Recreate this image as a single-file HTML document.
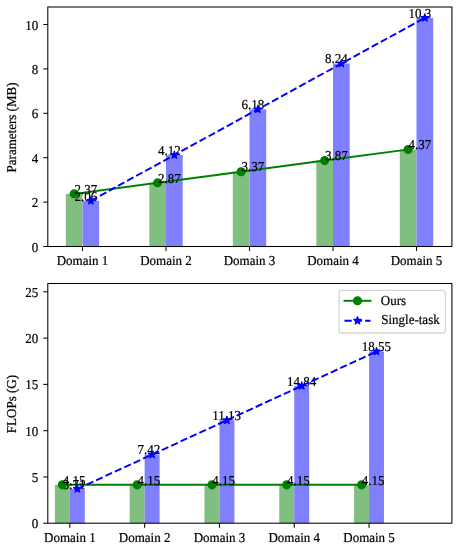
<!DOCTYPE html>
<html><head><meta charset="utf-8"><style>
html,body{margin:0;padding:0;background:#fff;}
svg{display:block;}
text{text-rendering:geometricPrecision;font-family:"Liberation Serif", "Times New Roman", serif;font-size:13.0px;fill:#000;stroke:#000;stroke-width:0.2px;}
</style></head><body>
<svg width="458" height="550" viewBox="0 0 458 550">
<rect width="458" height="550" fill="#fff"/>
<rect x="65.80" y="193.89" width="16.70" height="52.61" fill="#80bf80"/>
<rect x="82.50" y="200.77" width="16.70" height="45.73" fill="#8080ff"/>
<rect x="149.30" y="182.79" width="16.70" height="63.71" fill="#80bf80"/>
<rect x="166.00" y="155.04" width="16.70" height="91.46" fill="#8080ff"/>
<rect x="232.80" y="171.69" width="16.70" height="74.81" fill="#80bf80"/>
<rect x="249.50" y="109.30" width="16.70" height="137.20" fill="#8080ff"/>
<rect x="316.30" y="160.59" width="16.70" height="85.91" fill="#80bf80"/>
<rect x="333.00" y="63.57" width="16.70" height="182.93" fill="#8080ff"/>
<rect x="399.80" y="149.49" width="16.70" height="97.01" fill="#80bf80"/>
<rect x="416.50" y="17.84" width="16.70" height="228.66" fill="#8080ff"/>
<text transform="translate(74.45,200.57) scale(1,1.05)" font-size="12.8" stroke-width="0.05">2.06</text>
<text transform="translate(157.95,154.84) scale(1,1.05)" font-size="12.8" stroke-width="0.05">4.12</text>
<text transform="translate(241.45,109.10) scale(1,1.05)" font-size="12.8" stroke-width="0.05">6.18</text>
<text transform="translate(324.95,63.37) scale(1,1.05)" font-size="12.8" stroke-width="0.05">8.24</text>
<text transform="translate(408.45,17.64) scale(1,1.05)" font-size="12.8" stroke-width="0.05">10.3</text>
<polyline points="74.15,193.89 157.65,182.79 241.15,171.69 324.65,160.59 408.15,149.49" fill="none" stroke="#008000" stroke-width="1.95" stroke-linecap="square" stroke-linejoin="round"/>
<circle cx="74.15" cy="193.89" r="3.90" fill="#008000" stroke="#008000" stroke-width="1.30"/>
<circle cx="157.65" cy="182.79" r="3.90" fill="#008000" stroke="#008000" stroke-width="1.30"/>
<circle cx="241.15" cy="171.69" r="3.90" fill="#008000" stroke="#008000" stroke-width="1.30"/>
<circle cx="324.65" cy="160.59" r="3.90" fill="#008000" stroke="#008000" stroke-width="1.30"/>
<circle cx="408.15" cy="149.49" r="3.90" fill="#008000" stroke="#008000" stroke-width="1.30"/>
<polyline points="90.85,200.77 174.35,155.04 257.85,109.30 341.35,63.57 424.85,17.84" fill="none" stroke="#0000ff" stroke-width="1.95" stroke-dasharray="7.21 3.12" stroke-linejoin="round"/>
<path d="M90.85 196.87 L89.97 199.56 L87.14 199.56 L89.43 201.23 L88.56 203.92 L90.85 202.26 L93.14 203.92 L92.27 201.23 L94.56 199.56 L91.73 199.56 Z" fill="#0000ff" stroke="#0000ff" stroke-width="1.30" stroke-linejoin="round"/>
<path d="M174.35 151.14 L173.47 153.83 L170.64 153.83 L172.93 155.50 L172.06 158.19 L174.35 156.53 L176.64 158.19 L175.77 155.50 L178.06 153.83 L175.23 153.83 Z" fill="#0000ff" stroke="#0000ff" stroke-width="1.30" stroke-linejoin="round"/>
<path d="M257.85 105.40 L256.97 108.10 L254.14 108.10 L256.43 109.76 L255.56 112.46 L257.85 110.79 L260.14 112.46 L259.27 109.76 L261.56 108.10 L258.73 108.10 Z" fill="#0000ff" stroke="#0000ff" stroke-width="1.30" stroke-linejoin="round"/>
<path d="M341.35 59.67 L340.47 62.37 L337.64 62.37 L339.93 64.03 L339.06 66.73 L341.35 65.06 L343.64 66.73 L342.77 64.03 L345.06 62.37 L342.23 62.37 Z" fill="#0000ff" stroke="#0000ff" stroke-width="1.30" stroke-linejoin="round"/>
<path d="M424.85 13.94 L423.97 16.63 L421.14 16.63 L423.43 18.30 L422.56 21.00 L424.85 19.33 L427.14 21.00 L426.27 18.30 L428.56 16.63 L425.73 16.63 Z" fill="#0000ff" stroke="#0000ff" stroke-width="1.30" stroke-linejoin="round"/>
<text transform="translate(74.45,193.69) scale(1,1.05)" font-size="12.8" stroke-width="0.05">2.37</text>
<text transform="translate(157.95,182.59) scale(1,1.05)" font-size="12.8" stroke-width="0.05">2.87</text>
<text transform="translate(241.45,171.49) scale(1,1.05)" font-size="12.8" stroke-width="0.05">3.37</text>
<text transform="translate(324.95,160.39) scale(1,1.05)" font-size="12.8" stroke-width="0.05">3.87</text>
<text transform="translate(408.45,149.29) scale(1,1.05)" font-size="12.8" stroke-width="0.05">4.37</text>
<rect x="47.80" y="7.00" width="404.10" height="239.50" fill="none" stroke="#000" stroke-width="1.04" stroke-linejoin="miter"/>
<line x1="43.25" y1="246.50" x2="47.80" y2="246.50" stroke="#000" stroke-width="1.04"/>
<text transform="translate(38.30,251.50) scale(1,1.05)" text-anchor="end">0</text>
<line x1="43.25" y1="202.10" x2="47.80" y2="202.10" stroke="#000" stroke-width="1.04"/>
<text transform="translate(38.30,207.10) scale(1,1.05)" text-anchor="end">2</text>
<line x1="43.25" y1="157.70" x2="47.80" y2="157.70" stroke="#000" stroke-width="1.04"/>
<text transform="translate(38.30,162.70) scale(1,1.05)" text-anchor="end">4</text>
<line x1="43.25" y1="113.30" x2="47.80" y2="113.30" stroke="#000" stroke-width="1.04"/>
<text transform="translate(38.30,118.30) scale(1,1.05)" text-anchor="end">6</text>
<line x1="43.25" y1="68.90" x2="47.80" y2="68.90" stroke="#000" stroke-width="1.04"/>
<text transform="translate(38.30,73.90) scale(1,1.05)" text-anchor="end">8</text>
<line x1="43.25" y1="24.50" x2="47.80" y2="24.50" stroke="#000" stroke-width="1.04"/>
<text transform="translate(38.30,29.50) scale(1,1.05)" text-anchor="end">10</text>
<line x1="82.50" y1="246.50" x2="82.50" y2="251.05" stroke="#000" stroke-width="1.04"/>
<text transform="translate(82.50,265.40) scale(1,1.05)" text-anchor="middle">Domain 1</text>
<line x1="166.00" y1="246.50" x2="166.00" y2="251.05" stroke="#000" stroke-width="1.04"/>
<text transform="translate(166.00,265.40) scale(1,1.05)" text-anchor="middle">Domain 2</text>
<line x1="249.50" y1="246.50" x2="249.50" y2="251.05" stroke="#000" stroke-width="1.04"/>
<text transform="translate(249.50,265.40) scale(1,1.05)" text-anchor="middle">Domain 3</text>
<line x1="333.00" y1="246.50" x2="333.00" y2="251.05" stroke="#000" stroke-width="1.04"/>
<text transform="translate(333.00,265.40) scale(1,1.05)" text-anchor="middle">Domain 4</text>
<line x1="416.50" y1="246.50" x2="416.50" y2="251.05" stroke="#000" stroke-width="1.04"/>
<text transform="translate(416.50,265.40) scale(1,1.05)" text-anchor="middle">Domain 5</text>
<text transform="translate(15.60,127.45) rotate(-90) scale(1,1.05)" text-anchor="middle" font-size="13.2">Parameters (MB)</text>
<rect x="54.89" y="484.83" width="14.96" height="38.37" fill="#80bf80"/>
<rect x="69.85" y="488.90" width="14.96" height="34.30" fill="#8080ff"/>
<rect x="129.69" y="484.83" width="14.96" height="38.37" fill="#80bf80"/>
<rect x="144.65" y="454.56" width="14.96" height="68.64" fill="#8080ff"/>
<rect x="204.49" y="484.83" width="14.96" height="38.37" fill="#80bf80"/>
<rect x="219.45" y="420.21" width="14.96" height="102.99" fill="#8080ff"/>
<rect x="279.29" y="484.83" width="14.96" height="38.37" fill="#80bf80"/>
<rect x="294.25" y="385.86" width="14.96" height="137.34" fill="#8080ff"/>
<rect x="354.09" y="484.83" width="14.96" height="38.37" fill="#80bf80"/>
<rect x="369.05" y="351.51" width="14.96" height="171.69" fill="#8080ff"/>
<text transform="translate(62.67,488.70) scale(1,1.05)" font-size="12.8" stroke-width="0.05">3.71</text>
<text transform="translate(137.47,454.36) scale(1,1.05)" font-size="12.8" stroke-width="0.05">7.42</text>
<text transform="translate(212.27,420.01) scale(1,1.05)" font-size="12.8" stroke-width="0.05">11.13</text>
<text transform="translate(287.07,385.66) scale(1,1.05)" font-size="12.8" stroke-width="0.05">14.84</text>
<text transform="translate(361.87,351.31) scale(1,1.05)" font-size="12.8" stroke-width="0.05">18.55</text>
<polyline points="62.37,484.83 137.17,484.83 211.97,484.83 286.77,484.83 361.57,484.83" fill="none" stroke="#008000" stroke-width="1.95" stroke-linecap="square" stroke-linejoin="round"/>
<circle cx="62.37" cy="484.83" r="3.90" fill="#008000" stroke="#008000" stroke-width="1.30"/>
<circle cx="137.17" cy="484.83" r="3.90" fill="#008000" stroke="#008000" stroke-width="1.30"/>
<circle cx="211.97" cy="484.83" r="3.90" fill="#008000" stroke="#008000" stroke-width="1.30"/>
<circle cx="286.77" cy="484.83" r="3.90" fill="#008000" stroke="#008000" stroke-width="1.30"/>
<circle cx="361.57" cy="484.83" r="3.90" fill="#008000" stroke="#008000" stroke-width="1.30"/>
<polyline points="77.33,488.90 152.13,454.56 226.93,420.21 301.73,385.86 376.53,351.51" fill="none" stroke="#0000ff" stroke-width="1.95" stroke-dasharray="7.21 3.12" stroke-linejoin="round"/>
<path d="M77.33 485.00 L76.45 487.70 L73.62 487.70 L75.91 489.36 L75.04 492.06 L77.33 490.39 L79.62 492.06 L78.75 489.36 L81.04 487.70 L78.21 487.70 Z" fill="#0000ff" stroke="#0000ff" stroke-width="1.30" stroke-linejoin="round"/>
<path d="M152.13 450.66 L151.25 453.35 L148.42 453.35 L150.71 455.02 L149.84 457.71 L152.13 456.05 L154.42 457.71 L153.55 455.02 L155.84 453.35 L153.01 453.35 Z" fill="#0000ff" stroke="#0000ff" stroke-width="1.30" stroke-linejoin="round"/>
<path d="M226.93 416.31 L226.05 419.00 L223.22 419.00 L225.51 420.67 L224.64 423.36 L226.93 421.70 L229.22 423.36 L228.35 420.67 L230.64 419.00 L227.81 419.00 Z" fill="#0000ff" stroke="#0000ff" stroke-width="1.30" stroke-linejoin="round"/>
<path d="M301.73 381.96 L300.85 384.66 L298.02 384.66 L300.31 386.32 L299.44 389.02 L301.73 387.35 L304.02 389.02 L303.15 386.32 L305.44 384.66 L302.61 384.66 Z" fill="#0000ff" stroke="#0000ff" stroke-width="1.30" stroke-linejoin="round"/>
<path d="M376.53 347.61 L375.65 350.31 L372.82 350.31 L375.11 351.97 L374.24 354.67 L376.53 353.00 L378.82 354.67 L377.95 351.97 L380.24 350.31 L377.41 350.31 Z" fill="#0000ff" stroke="#0000ff" stroke-width="1.30" stroke-linejoin="round"/>
<text transform="translate(62.67,484.63) scale(1,1.05)" font-size="12.8" stroke-width="0.05">4.15</text>
<text transform="translate(137.47,484.63) scale(1,1.05)" font-size="12.8" stroke-width="0.05">4.15</text>
<text transform="translate(212.27,484.63) scale(1,1.05)" font-size="12.8" stroke-width="0.05">4.15</text>
<text transform="translate(287.07,484.63) scale(1,1.05)" font-size="12.8" stroke-width="0.05">4.15</text>
<text transform="translate(361.87,484.63) scale(1,1.05)" font-size="12.8" stroke-width="0.05">4.15</text>
<rect x="47.80" y="283.50" width="404.10" height="239.70" fill="none" stroke="#000" stroke-width="1.04" stroke-linejoin="miter"/>
<line x1="43.25" y1="523.25" x2="47.80" y2="523.25" stroke="#000" stroke-width="1.04"/>
<text transform="translate(38.30,528.25) scale(1,1.05)" text-anchor="end">0</text>
<line x1="43.25" y1="476.96" x2="47.80" y2="476.96" stroke="#000" stroke-width="1.04"/>
<text transform="translate(38.30,481.96) scale(1,1.05)" text-anchor="end">5</text>
<line x1="43.25" y1="430.67" x2="47.80" y2="430.67" stroke="#000" stroke-width="1.04"/>
<text transform="translate(38.30,435.67) scale(1,1.05)" text-anchor="end">10</text>
<line x1="43.25" y1="384.38" x2="47.80" y2="384.38" stroke="#000" stroke-width="1.04"/>
<text transform="translate(38.30,389.38) scale(1,1.05)" text-anchor="end">15</text>
<line x1="43.25" y1="338.09" x2="47.80" y2="338.09" stroke="#000" stroke-width="1.04"/>
<text transform="translate(38.30,343.09) scale(1,1.05)" text-anchor="end">20</text>
<line x1="43.25" y1="291.80" x2="47.80" y2="291.80" stroke="#000" stroke-width="1.04"/>
<text transform="translate(38.30,296.80) scale(1,1.05)" text-anchor="end">25</text>
<line x1="69.85" y1="523.20" x2="69.85" y2="527.75" stroke="#000" stroke-width="1.04"/>
<text transform="translate(69.85,542.10) scale(1,1.05)" text-anchor="middle">Domain 1</text>
<line x1="144.65" y1="523.20" x2="144.65" y2="527.75" stroke="#000" stroke-width="1.04"/>
<text transform="translate(144.65,542.10) scale(1,1.05)" text-anchor="middle">Domain 2</text>
<line x1="219.45" y1="523.20" x2="219.45" y2="527.75" stroke="#000" stroke-width="1.04"/>
<text transform="translate(219.45,542.10) scale(1,1.05)" text-anchor="middle">Domain 3</text>
<line x1="294.25" y1="523.20" x2="294.25" y2="527.75" stroke="#000" stroke-width="1.04"/>
<text transform="translate(294.25,542.10) scale(1,1.05)" text-anchor="middle">Domain 4</text>
<line x1="369.05" y1="523.20" x2="369.05" y2="527.75" stroke="#000" stroke-width="1.04"/>
<text transform="translate(369.05,542.10) scale(1,1.05)" text-anchor="middle">Domain 5</text>
<text transform="translate(15.60,404.05) rotate(-90) scale(1,1.05)" text-anchor="middle" font-size="13.2">FLOPs (G)</text>
<rect x="339.1" y="290.4" width="106.3" height="42.6" rx="2.6" ry="2.6" fill="#fff" fill-opacity="0.8" stroke="#d6d6d6" stroke-width="1.3"/>
<line x1="344.5" y1="300.8" x2="370.5" y2="300.8" stroke="#008000" stroke-width="1.95" stroke-linecap="square"/>
<circle cx="357.5" cy="300.8" r="3.90" fill="#008000" stroke="#008000" stroke-width="1.30"/>
<line x1="344.5" y1="320.7" x2="370.5" y2="320.7" stroke="#0000ff" stroke-width="1.95" stroke-dasharray="7.21 3.12"/>
<path d="M357.50 316.80 L356.62 319.49 L353.79 319.49 L356.08 321.16 L355.21 323.86 L357.50 322.19 L359.79 323.86 L358.92 321.16 L361.21 319.49 L358.38 319.49 Z" fill="#0000ff" stroke="#0000ff" stroke-width="1.30" stroke-linejoin="round"/>
<text transform="translate(380.80,305.40) scale(1,1.05)" font-size="12.75">Ours</text>
<text transform="translate(381.20,324.40) scale(1,1.05)" font-size="12.75">Single-task</text>
</svg>
</body></html>
